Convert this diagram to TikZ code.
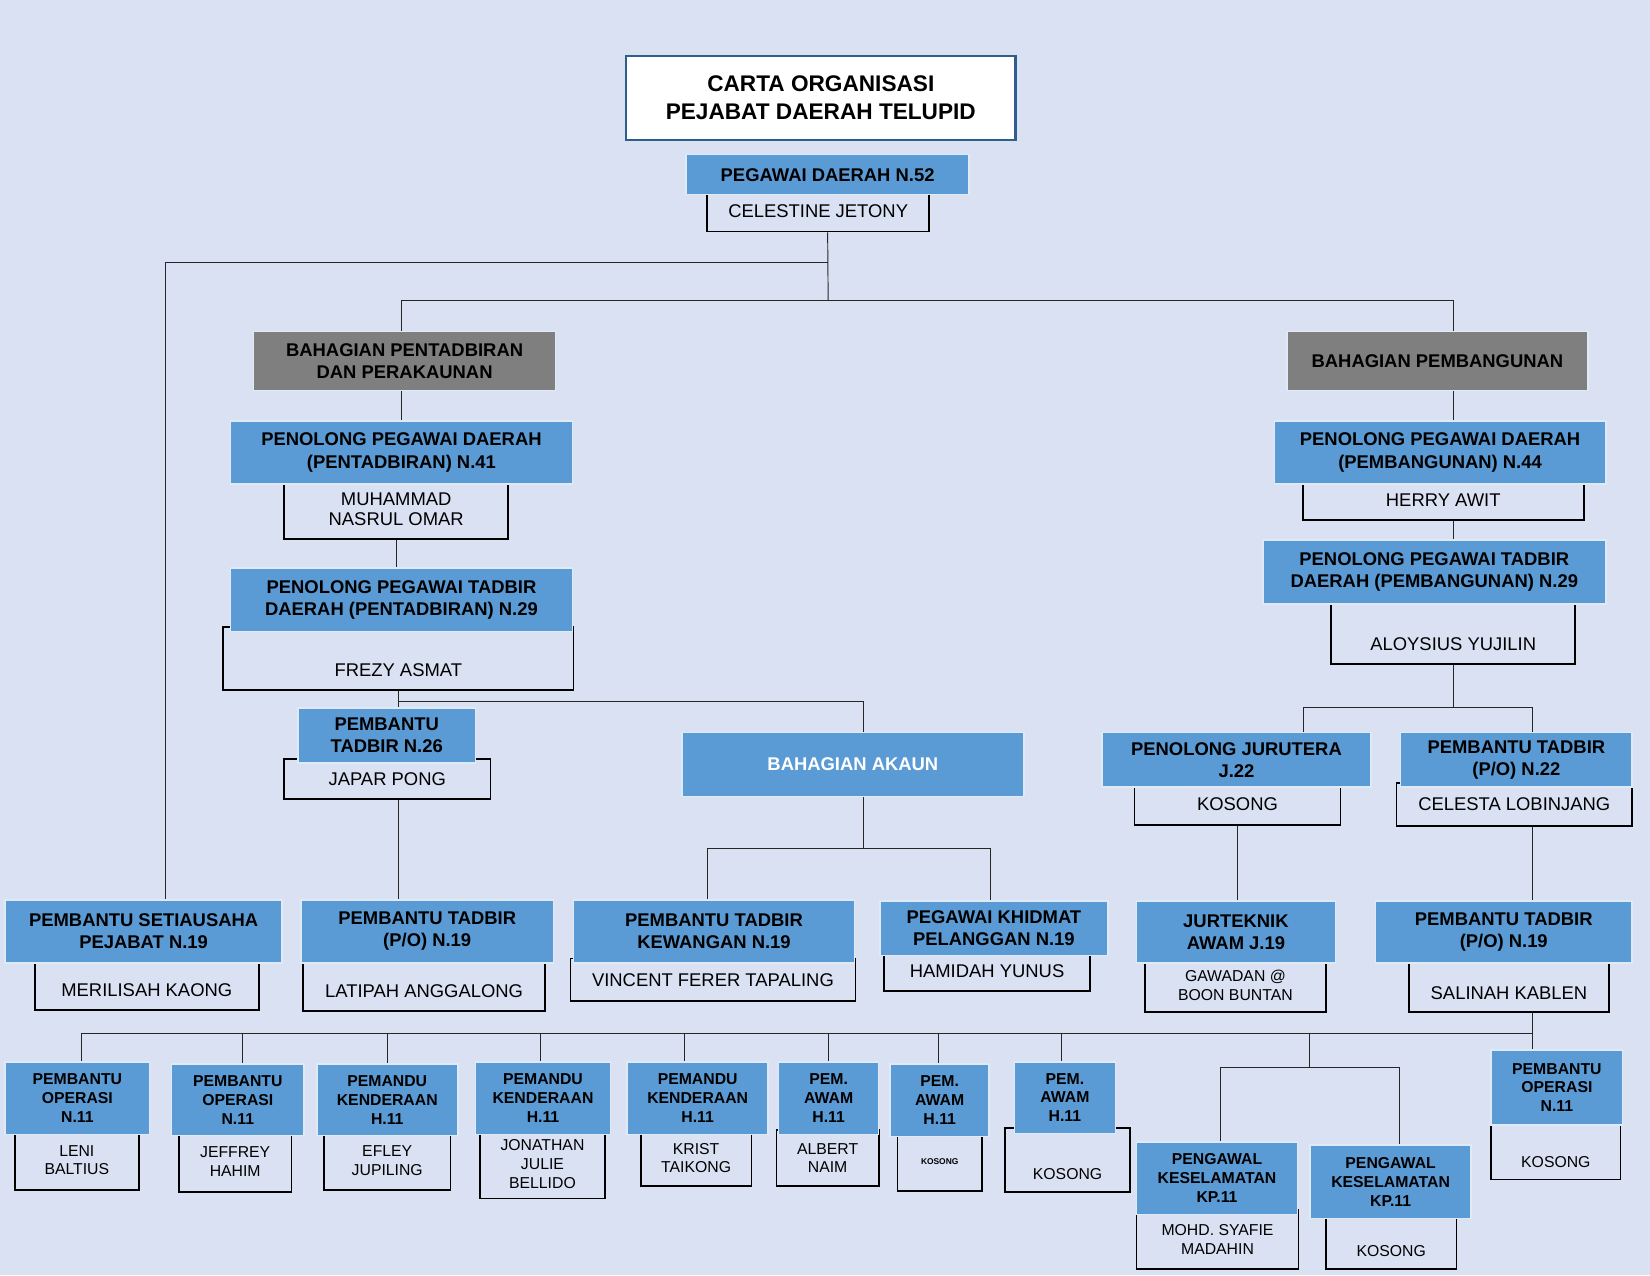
\documentclass[tikz,border=0pt]{standalone}
\usepackage{fontspec}
\setmainfont{Liberation Sans}
\usepackage{tikz}
\usetikzlibrary{positioning}

\definecolor{latar}{HTML}{DAE1F3}
\definecolor{biru}{HTML}{5B9BD5}
\definecolor{kelabu}{HTML}{7F7F7F}
\definecolor{bingkai}{HTML}{2F5D8C}

\begin{document}
\begin{tikzpicture}[
  x=1pt, y=-1pt,
  tajukbox/.style={draw=bingkai, line width=2pt, fill=white, align=center,
                   font=\fontsize{21.5}{27}\selectfont\bfseries},
  jawatan/.style={draw=white!80!biru, line width=1.5pt, fill=biru, align=center,
                  inner sep=1pt, font=\fontsize{17.5}{21}\selectfont\bfseries},
  bahagian/.style={jawatan, fill=kelabu},
  nama/.style={draw=black, line width=1.6pt, fill=latar, align=center,
               inner sep=1pt, font=\fontsize{17.5}{19}\selectfont},
  kecil/.style={font=\fontsize{15}{18}\selectfont\bfseries},
  namakecil/.style={font=\fontsize{15}{18}\selectfont},
  garis/.style={draw=black!85, line width=0.9pt},
]
\path[use as bounding box, fill=latar] (0,0) rectangle (1568,1212);

% puncak
\node[tajukbox, minimum width=370pt, minimum height=80pt] (tajuk) at (780,93) {CARTA ORGANISASI\\PEJABAT DAERAH TELUPID};
\node[nama, minimum width=211pt, minimum height=39pt] (pdn) at (777.5,200.5) {CELESTINE JETONY};
\node[jawatan, minimum width=269pt, minimum height=38pt] (pd) at (786.5,166) {PEGAWAI DAERAH N.52};

\node[bahagian, minimum width=287pt, minimum height=56pt] (bpk) at (384.5,343) {BAHAGIAN PENTADBIRAN\\DAN PERAKAUNAN};
\node[bahagian, minimum width=286pt, minimum height=56pt] (bpb) at (1366,343) {BAHAGIAN PEMBANGUNAN};

% pentadbiran
\node[nama, minimum width=213pt, minimum height=56pt] (ppd1n) at (376.5,484) {MUHAMMAD\\NASRUL OMAR};
\node[jawatan, minimum width=325pt, minimum height=60pt] (ppd1) at (381.5,430) {PENOLONG PEGAWAI DAERAH\\(PENTADBIRAN) N.41};
\node[nama, minimum width=333pt, minimum height=60pt, text height=34.5pt] (ppt1n) at (378.5,626) {FREZY ASMAT};
\node[jawatan, minimum width=325pt, minimum height=60pt] (ppt1) at (381.5,570) {PENOLONG PEGAWAI TADBIR\\DAERAH (PENTADBIRAN) N.29};
\node[nama, minimum width=196pt, minimum height=38pt] (pt26n) at (368,740) {JAPAR PONG};
\node[jawatan, minimum width=169pt, minimum height=52pt] (pt26) at (367.5,699) {PEMBANTU\\TADBIR N.26};
\node[jawatan, minimum width=325pt, minimum height=61pt, text=white] (akaun) at (810.5,726.5) {BAHAGIAN AKAUN};

\node[nama, minimum width=213pt, minimum height=49pt, text height=23.5pt] (ps19n) at (139.5,935.5) {MERILISAH KAONG};
\node[jawatan, minimum width=263pt, minimum height=60pt] (ps19) at (136.5,885) {PEMBANTU SETIAUSAHA\\PEJABAT N.19};
\node[nama, minimum width=230pt, minimum height=50pt, text height=24.5pt] (pt19an) at (403,936) {LATIPAH ANGGALONG};
\node[jawatan, minimum width=240pt, minimum height=60pt] (pt19a) at (406,885) {PEMBANTU TADBIR\\(P/O) N.19};
\node[nama, minimum width=271pt, minimum height=40pt] (ptkn) at (677.5,931) {VINCENT FERER TAPALING};
\node[jawatan, minimum width=267pt, minimum height=60pt] (ptk) at (678.5,885) {PEMBANTU TADBIR\\KEWANGAN N.19};
\node[nama, minimum width=196pt, minimum height=38pt] (pkpn) at (938,923) {HAMIDAH YUNUS};
\node[jawatan, minimum width=217pt, minimum height=52pt] (pkp) at (944.5,882) {PEGAWAI KHIDMAT\\PELANGGAN N.19};

% pembangunan
\node[nama, minimum width=267pt, minimum height=38pt] (ppd2n) at (1371.5,475) {HERRY AWIT};
\node[jawatan, minimum width=315pt, minimum height=60pt] (ppd2) at (1368.5,430) {PENOLONG PEGAWAI DAERAH\\(PEMBANGUNAN) N.44};
\node[nama, minimum width=232pt, minimum height=61pt, text height=35.5pt] (ppt2n) at (1381,600.5) {ALOYSIUS YUJILIN};
\node[jawatan, minimum width=326pt, minimum height=61pt] (ppt2) at (1363,543.5) {PENOLONG PEGAWAI TADBIR\\DAERAH (PEMBANGUNAN) N.29};
\node[nama, minimum width=196pt, minimum height=40pt] (pj22n) at (1176,764) {KOSONG};
\node[jawatan, minimum width=256pt, minimum height=52pt] (pj22) at (1175,722) {PENOLONG JURUTERA\\J.22};
\node[nama, minimum width=224pt, minimum height=41pt] (pt22n) at (1439,764.5) {CELESTA LOBINJANG};
\node[jawatan, minimum width=220pt, minimum height=52pt] (pt22) at (1441,722) {PEMBANTU TADBIR\\(P/O) N.22};
\node[nama, namakecil, minimum width=172pt, minimum height=51pt] (jt19n) at (1174,936.5) {GAWADAN @\\BOON BUNTAN};
\node[jawatan, minimum width=189pt, minimum height=59pt] (jt19) at (1174.5,885.5) {JURTEKNIK\\AWAM J.19};
\node[nama, minimum width=190pt, minimum height=51pt, text height=27.5pt] (pt19bn) at (1434,936.5) {SALINAH KABLEN};
\node[jawatan, minimum width=244pt, minimum height=59pt] (pt19b) at (1429,885.5) {PEMBANTU TADBIR\\(P/O) N.19};

% baris bawah
\node[nama, namakecil, minimum width=118pt, minimum height=57pt] (b1n) at (73,1102.5) {LENI\\BALTIUS};
\node[jawatan, kecil, minimum width=137pt, minimum height=69pt] (b1) at (73.5,1043.5) {PEMBANTU\\OPERASI\\N.11};
\node[nama, namakecil, minimum width=107pt, minimum height=58pt] (b2n) at (223.5,1104) {JEFFREY\\HAHIM};
\node[jawatan, kecil, minimum width=126pt, minimum height=68pt] (b2) at (226,1045) {PEMBANTU\\OPERASI\\N.11};
\node[nama, namakecil, minimum width=120pt, minimum height=56pt] (b3n) at (368,1103) {EFLEY\\JUPILING};
\node[jawatan, kecil, minimum width=134pt, minimum height=68pt] (b3) at (368,1045) {PEMANDU\\KENDERAAN\\H.11};
\node[nama, namakecil, minimum width=119pt, minimum height=65pt] (b4n) at (515.5,1106.5) {JONATHAN\\JULIE\\BELLIDO};
\node[jawatan, kecil, minimum width=128pt, minimum height=69pt] (b4) at (516,1043.5) {PEMANDU\\KENDERAAN\\H.11};
\node[nama, namakecil, minimum width=105pt, minimum height=53pt] (b5n) at (661.5,1100.5) {KRIST\\TAIKONG};
\node[jawatan, kecil, minimum width=134pt, minimum height=69pt] (b5) at (663,1043.5) {PEMANDU\\KENDERAAN\\H.11};
\node[nama, namakecil, minimum width=97pt, minimum height=53pt] (b6n) at (786.5,1100.5) {ALBERT\\NAIM};
\node[jawatan, kecil, minimum width=95pt, minimum height=69pt] (b6) at (787.5,1043.5) {PEM.\\AWAM\\H.11};
\node[nama, minimum width=80pt, minimum height=56pt, font=\fontsize{8}{10}\selectfont\bfseries] (b7n) at (893,1104) {KOSONG};
\node[jawatan, kecil, minimum width=94pt, minimum height=69pt] (b7) at (893,1045.5) {PEM.\\AWAM\\H.11};
\node[nama, namakecil, minimum width=119pt, minimum height=61pt, text height=37.7pt] (b8n) at (1014.5,1102.5) {KOSONG};
\node[jawatan, kecil, minimum width=96pt, minimum height=68pt] (b8) at (1012,1043) {PEM.\\AWAM\\H.11};
\node[nama, namakecil, minimum width=154pt, minimum height=56pt] (b9n) at (1157,1178) {MOHD. SYAFIE\\MADAHIN};
\node[jawatan, kecil, minimum width=153pt, minimum height=69pt] (b9) at (1156.5,1119.5) {PENGAWAL\\KESELAMATAN\\KP.11};
\node[nama, namakecil, minimum width=124pt, minimum height=52pt, text height=28.7pt] (b10n) at (1322,1180) {KOSONG};
\node[jawatan, kecil, minimum width=153pt, minimum height=70pt] (b10) at (1321.5,1123) {PENGAWAL\\KESELAMATAN\\KP.11};
\node[nama, namakecil, minimum width=123pt, minimum height=56pt, text height=32.7pt] (b11n) at (1478.5,1093) {KOSONG};
\node[jawatan, kecil, minimum width=125pt, minimum height=71pt] (b11) at (1479.5,1033.5) {PEMBANTU\\OPERASI\\N.11};

% garis penghubung
\coordinate (c1) at (787,249);
\coordinate (c2) at (787,286);
\coordinate (c3) at (378,667);
\coordinate (c4) at (821,806);
\coordinate (c5) at (1381,672);
\coordinate (c6) at (1456,982);
\coordinate (c7) at (1244,1014);

\draw[garis] (pd.south |- pdn.south) -- (c2);
\draw[garis] (c1) -| ([xshift=20.5pt]ps19.north);
\draw[garis] (ppd1.north |- bpk.north) |- (c2) -| (ppt2n.north |- bpb.north);
\draw[garis] (ppd1.north |- bpk.south) -- (ppd1.north);
\draw[garis] (ppd1n.south) -- (ppd1n.south |- ppt1.north);
\draw[garis] (ppt1n.south) -- (ppt1n.south |- pt26.north);
\draw[garis] (c3) -| ([xshift=10.5pt]akaun.north);
\draw[garis] (ppt1n.south |- pt26n.south) -- (ppt1n.south |- pt19a.north);
\draw[garis] ([xshift=10.5pt]akaun.south) -- (c4);
\draw[garis] ([xshift=-6.5pt]ptk.north) |- (c4) -| ([xshift=-3.5pt]pkp.north);

\draw[garis] (ppt2n.north |- bpb.south) -- (ppt2n.north |- ppd2.north);
\draw[garis] (ppt2n.north |- ppd2n.south) -- (ppt2n.north |- ppt2.north);
\draw[garis] (ppt2n.south) -- (c5);
\draw[garis] ([xshift=64pt]pj22.north) |- (c5) -| ([xshift=15pt]pt22.north);
\draw[garis] (pj22n.south) -- (pj22n.south |- jt19.north);
\draw[garis] ([xshift=17pt]pt22n.south) -- ([xshift=17pt]pt22n.south |- pt19b.north);
\draw[garis] ([xshift=22pt]pt19bn.south) -- ([xshift=22pt]pt19bn.south |- b11.north);

\draw[garis] ([xshift=3.5pt]b1.north) |- (c6);
\foreach \n/\d in {b2/4,b3/0,b4/-2,b5/-13,b6/-0.5,b7/-1,b8/-3}
  \draw[garis] ([xshift=\d pt]\n.north) -- ([xshift=\d pt]\n.north |- c6);
\draw[garis] (c7 |- c6) -- (c7);
\draw[garis] ([xshift=3.5pt]b9.north) |- (c7) -| ([xshift=8.5pt]b10.north);
\end{tikzpicture}
\end{document}
